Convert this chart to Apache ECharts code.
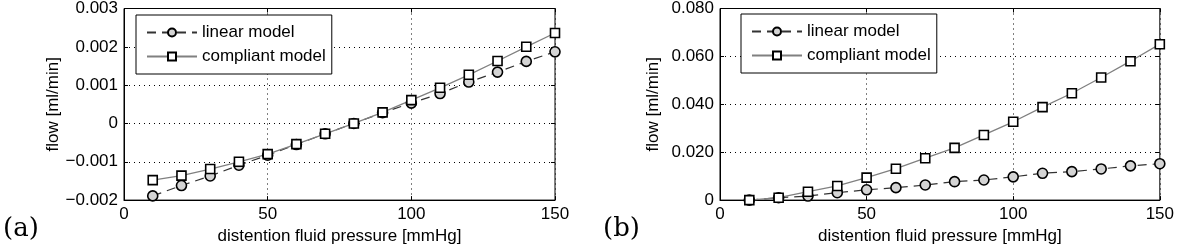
<!DOCTYPE html>
<html>
<head>
<meta charset="utf-8">
<script src="https://cdn.jsdelivr.net/npm/echarts@6/dist/echarts.min.js"></script>
<style>
  html, body { margin: 0; padding: 0; background: #fff; }
  #chart { width: 1177px; height: 250px; }
</style>
</head>
<body>
<div id="chart"></div>
<script>
// pressure steps (x), mmHg
const pressure = [10, 20, 30, 40, 50, 60, 70, 80, 90, 100, 110, 120, 130, 140, 150];

// panel (a)
const linearA = [-0.00189, -0.00162, -0.00137, -0.00109, -0.00083, -0.00055, -0.00027, 0.0,
  0.00028, 0.00053, 0.00078, 0.00108, 0.00134, 0.00162, 0.00187];
const compliantA = [-0.00148, -0.00136, -0.00119, -0.00100, -0.00080, -0.00054, -0.00027, 0.0,
  0.00029, 0.00061, 0.00093, 0.00127, 0.00163, 0.00200, 0.00236];

// panel (b)
const linearB = [0.0, 0.0010, 0.0017, 0.0031, 0.0043, 0.0052, 0.0063, 0.0077,
  0.0084, 0.0097, 0.0112, 0.0119, 0.0130, 0.0143, 0.0152];
const compliantB = [0.0, 0.0010, 0.0035, 0.0059, 0.0094, 0.0131, 0.0175, 0.0218,
  0.0272, 0.0327, 0.0388, 0.0446, 0.0512, 0.0580, 0.0651];

const xTicks = ['0', '50', '100', '150'];
const yTicksA = ['\u22120.002', '\u22120.001', '0', '0.001', '0.002', '0.003'];
const yTicksB = ['0', '0.020', '0.040', '0.060', '0.080'];

const font = 'Liberation Sans, Arial, Helvetica, sans-serif';
const fs = 17;

function pairs(ys) {
  return pressure.map((x, i) => [x, ys[i]]);
}

function tickLabel(list, min, step) {
  return function (v) {
    return list[Math.round((v - min) / step)];
  };
}

function xAxisFor(grid, top) {
  return {
    type: 'value', gridIndex: grid, min: 0, max: 150, interval: 50,
    position: top ? 'top' : 'bottom',
    name: top ? '' : 'distention fluid pressure [mmHg]',
    nameLocation: 'middle', nameGap: 27,
    nameTextStyle: { fontFamily: font, fontSize: fs, color: '#000' },
    axisLine: { show: !top, onZero: false, lineStyle: { color: '#000', width: 1 } },
    axisTick: { show: true, inside: true, length: 4, lineStyle: { color: '#000' } },
    axisLabel: { show: !top, margin: 6, fontFamily: font, fontSize: fs, color: '#000',
      formatter: tickLabel(xTicks, 0, 50) },
    splitLine: { show: !top, lineStyle: { color: '#000', type: [1, 4], width: 1 } }
  };
}

function yAxisFor(grid, right, min, max, step, labels) {
  return {
    type: 'value', gridIndex: grid, min: min, max: max, interval: step,
    position: right ? 'right' : 'left',
    name: right ? '' : 'flow [ml/min]',
    nameLocation: 'middle', nameGap: 58,
    nameTextStyle: { fontFamily: font, fontSize: fs, color: '#000' },
    axisLine: { show: !right, onZero: false, lineStyle: { color: '#000', width: 1 } },
    axisTick: { show: true, inside: true, length: 4, lineStyle: { color: '#000' } },
    axisLabel: { show: !right, margin: 6, fontFamily: font, fontSize: fs, color: '#000',
      formatter: tickLabel(labels, min, step) },
    splitLine: { show: !right, lineStyle: { color: '#000', type: [1, 4], width: 1 } }
  };
}

function linearSeries(axis, ys) {
  return {
    name: 'linear model', type: 'line', xAxisIndex: axis, yAxisIndex: axis,
    data: pairs(ys),
    symbol: 'circle', symbolSize: 10,
    itemStyle: { color: '#d4d4d4', borderColor: '#000', borderWidth: 1.6 },
    lineStyle: { color: '#333', width: 1.2, type: [9, 6] },
    animation: false
  };
}

function compliantSeries(axis, ys) {
  return {
    name: 'compliant model', type: 'line', xAxisIndex: axis, yAxisIndex: axis,
    data: pairs(ys),
    symbol: 'rect', symbolSize: 9,
    itemStyle: { color: '#fff', borderColor: '#000', borderWidth: 1.6 },
    lineStyle: { color: '#808080', width: 1.3 },
    animation: false
  };
}

function legendAt(left, top) {
  return {
    left: left, top: top, orient: 'vertical',
    data: ['linear model', 'compliant model'],
    itemWidth: 50, itemHeight: 10, itemGap: 7,
    padding: [9, 6, 9, 10],
    backgroundColor: '#fff', borderColor: '#000', borderWidth: 1,
    textStyle: { fontFamily: font, fontSize: fs, color: '#000' },
    selectedMode: false
  };
}

const chart = echarts.init(document.getElementById('chart'));
chart.setOption({
  animation: false,
  grid: [
    { left: 124, right: 622, top: 8, bottom: 48, show: true, borderColor: '#000', borderWidth: 1, backgroundColor: 'transparent' },
    { left: 720, right: 16, top: 7, bottom: 47, show: true, borderColor: '#000', borderWidth: 1, backgroundColor: 'transparent' }
  ],
  xAxis: [xAxisFor(0, false), xAxisFor(1, false), xAxisFor(0, true), xAxisFor(1, true)],
  yAxis: [
    yAxisFor(0, false, -0.002, 0.003, 0.001, yTicksA),
    yAxisFor(1, false, 0, 0.08, 0.02, yTicksB),
    yAxisFor(0, true, -0.002, 0.003, 0.001, yTicksA),
    yAxisFor(1, true, 0, 0.08, 0.02, yTicksB)
  ],
  legend: [legendAt(136, 15), legendAt(741, 14)],
  series: [
    linearSeries(0, linearA), compliantSeries(0, compliantA),
    linearSeries(1, linearB), compliantSeries(1, compliantB)
  ],
  graphic: [
    { type: 'text', left: 3, top: 216, style: { text: '(a)', fontFamily: 'DejaVu Serif, Liberation Serif, serif', fontSize: 26, fill: '#000' } },
    { type: 'text', left: 603, top: 216, style: { text: '(b)', fontFamily: 'DejaVu Serif, Liberation Serif, serif', fontSize: 26, fill: '#000' } }
  ]
});
</script>
</body>
</html>
